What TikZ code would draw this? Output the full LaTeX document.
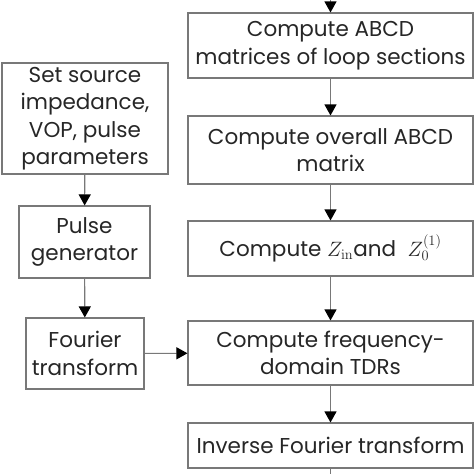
\documentclass[tikz,border=0pt]{standalone}
\usepackage[no-math]{fontspec}
\setmainfont{Poppins}
\usetikzlibrary{arrows.meta}
\definecolor{edge}{RGB}{120,120,120}
\begin{document}
\begin{tikzpicture}[x=1pt,y=-1pt,
  box/.style={draw=edge,line width=1.1pt,inner sep=0pt,align=center,
    font=\fontsize{21.5}{27.5}\selectfont,text=black!85},
  flow/.style={draw=edge,line width=1.1pt,-{Triangle[length=11pt,width=12pt,color=black]}}]
\useasboundingbox (0,0) rectangle (474,474);
% right column
\node[box,minimum width=285pt,minimum height=65pt] (r1) at (330.5,45.5) {Compute ABCD\\matrices of loop sections};
\node[box,minimum width=285pt,minimum height=68pt] (r2) at (330.5,150) {Compute overall ABCD\\matrix};
\node[box,minimum width=285pt,minimum height=55pt] (r3) at (330.5,248.5) {Compute $Z_{\mathrm{in}}$and\ \ $Z_0^{(1)}$};
\node[box,minimum width=285pt,minimum height=64pt] (r4) at (330.5,353) {Compute frequency-\\domain TDRs};
\node[box,minimum width=285pt,minimum height=45pt] (r5) at (330.5,445.5) {Inverse Fourier transform};
% left column
\node[box,minimum width=166pt,minimum height=111pt] (l1) at (85,118.5) {Set source\\impedance,\\VOP, pulse\\parameters};
\node[box,minimum width=131pt,minimum height=72pt] (l2) at (84.5,242) {Pulse\\generator};
\node[box,minimum width=118pt,minimum height=71pt] (l3) at (85,353.5) {Fourier\\transform};
\coordinate (top) at (330.5,0);
\coordinate (bot) at (330.5,474);
\draw[flow] (top) -- (r1);
\draw[flow] (r1) -- (r2);
\draw[flow] (r2) -- (r3);
\draw[flow] (r3) -- (r4);
\draw[flow] (r4) -- (r5);
\draw[draw=edge,line width=1.1pt] (r5) -- (bot);
\draw[flow] (l1) -- (l2);
\draw[flow] (l2) -- (l3);
\draw[flow] (l3) -- (r4);
\end{tikzpicture}
\end{document}
